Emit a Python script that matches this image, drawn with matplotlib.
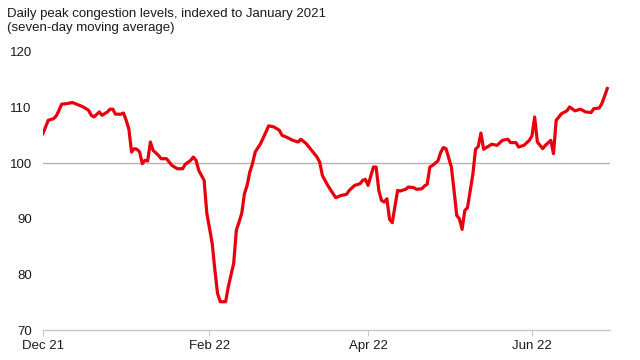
import matplotlib

matplotlib.use("Agg")
import matplotlib.pyplot as plt
import pandas as pd

# seven-day moving average of daily peak congestion, index Jan 2021 = 100
dates = [
    "2021-12-01", "2021-12-02", "2021-12-03", "2021-12-05", "2021-12-06",
    "2021-12-07", "2021-12-08", "2021-12-10", "2021-12-12", "2021-12-13",
    "2021-12-15", "2021-12-16", "2021-12-18", "2021-12-19", "2021-12-20",
    "2021-12-22", "2021-12-23", "2021-12-25", "2021-12-26", "2021-12-27",
    "2021-12-28", "2021-12-30", "2021-12-31", "2022-01-01", "2022-01-02",
    "2022-01-03", "2022-01-04", "2022-01-05", "2022-01-06", "2022-01-07",
    "2022-01-08", "2022-01-09", "2022-01-10", "2022-01-11", "2022-01-13",
    "2022-01-14", "2022-01-16", "2022-01-18", "2022-01-20", "2022-01-22",
    "2022-01-23", "2022-01-25", "2022-01-26", "2022-01-27", "2022-01-28",
    "2022-01-29", "2022-01-30", "2022-01-31", "2022-02-02", "2022-02-03",
    "2022-02-04", "2022-02-05", "2022-02-07", "2022-02-08", "2022-02-10",
    "2022-02-11", "2022-02-12", "2022-02-13", "2022-02-14", "2022-02-15",
    "2022-02-16", "2022-02-17", "2022-02-18", "2022-02-20", "2022-02-22",
    "2022-02-23", "2022-02-25", "2022-02-27", "2022-02-28", "2022-03-02",
    "2022-03-04", "2022-03-06", "2022-03-07", "2022-03-09", "2022-03-11",
    "2022-03-13", "2022-03-14", "2022-03-15", "2022-03-17", "2022-03-19",
    "2022-03-20", "2022-03-22", "2022-03-24", "2022-03-25", "2022-03-27",
    "2022-03-29", "2022-03-30", "2022-03-31", "2022-04-01", "2022-04-03",
    "2022-04-04", "2022-04-05", "2022-04-06", "2022-04-07", "2022-04-08",
    "2022-04-09", "2022-04-10", "2022-04-12", "2022-04-13", "2022-04-15",
    "2022-04-16", "2022-04-18", "2022-04-19", "2022-04-21", "2022-04-22",
    "2022-04-23", "2022-04-24", "2022-04-25", "2022-04-27", "2022-04-28",
    "2022-04-29", "2022-04-30", "2022-05-02", "2022-05-03", "2022-05-04",
    "2022-05-05", "2022-05-06", "2022-05-07", "2022-05-08", "2022-05-10",
    "2022-05-11", "2022-05-12", "2022-05-13", "2022-05-14", "2022-05-16",
    "2022-05-17", "2022-05-19", "2022-05-21", "2022-05-23", "2022-05-24",
    "2022-05-26", "2022-05-27", "2022-05-29", "2022-05-31", "2022-06-01",
    "2022-06-02", "2022-06-03", "2022-06-05", "2022-06-06", "2022-06-08",
    "2022-06-09", "2022-06-10", "2022-06-12", "2022-06-14", "2022-06-15",
    "2022-06-17", "2022-06-19", "2022-06-21", "2022-06-23", "2022-06-24",
    "2022-06-26", "2022-06-27", "2022-06-28", "2022-06-29",
]
congestion = [
    105.3, 106.5, 107.7, 108.0, 108.5,
    109.5, 110.6, 110.7, 110.9, 110.7,
    110.3, 110.1, 109.5, 108.6, 108.3,
    109.2, 108.6, 109.2, 109.7, 109.7,
    108.8, 108.8, 109.0, 107.7, 106.1,
    102.0, 102.6, 102.5, 102.0, 99.9,
    100.5, 100.4, 103.8, 102.3, 101.4,
    100.8, 100.8, 99.6, 99.0, 99.0,
    99.8, 100.5, 101.1, 100.5, 98.7,
    97.8, 96.9, 91.0, 85.6, 80.8,
    76.6, 75.1, 75.1, 77.8, 82.0,
    88.0, 89.4, 91.0, 94.5, 96.0,
    98.4, 99.9, 102.0, 103.5, 105.6,
    106.7, 106.5, 105.9, 105.0, 104.6,
    104.1, 103.8, 104.3, 103.5, 102.3,
    101.1, 100.2, 97.8, 96.0, 94.5,
    93.8, 94.2, 94.4, 95.1, 96.0,
    96.3, 96.9, 97.1, 96.0, 99.3,
    99.3, 95.1, 93.3, 93.0, 93.6,
    89.9, 89.3, 95.1, 95.0, 95.3,
    95.7, 95.6, 95.3, 95.4, 95.9,
    96.2, 99.3, 99.6, 100.4, 101.9,
    102.8, 102.6, 99.3, 95.1, 90.6,
    90.0, 88.1, 91.5, 92.0, 98.0,
    102.5, 103.0, 105.4, 102.5, 103.1,
    103.4, 103.2, 104.1, 104.3, 103.7,
    103.7, 102.9, 103.2, 104.1, 104.9,
    108.3, 103.8, 102.6, 103.2, 104.1,
    101.7, 107.7, 108.9, 109.4, 110.1,
    109.4, 109.7, 109.2, 109.1, 109.8,
    109.9, 110.7, 112.0, 113.4,
]
x_ticks = ["2021-12-01", "2022-02-01", "2022-04-01", "2022-06-01"]
x_tick_labels = ["Dec 21", "Feb 22", "Apr 22", "Jun 22"]
y_ticks = [70, 80, 90, 100, 110, 120]
title = "Daily peak congestion levels, indexed to January 2021\n(seven-day moving average)"

plt.rcParams["font.family"] = ["Liberation Sans", "DejaVu Sans"]

fig = plt.figure(figsize=(6.4, 3.6), dpi=100)
ax = fig.add_axes([0.067, 0.083, 0.886, 0.773])

ax.axhline(100, color="#b4b4b4", linewidth=1.0, zorder=1)
ax.plot(pd.to_datetime(dates), congestion, color="#e8000d", linewidth=2.3, zorder=3)

ax.set_xlim(pd.Timestamp("2021-12-01"), pd.Timestamp("2022-06-30"))
ax.set_ylim(70, 120)
ax.set_xticks(pd.to_datetime(x_ticks))
ax.set_xticklabels(x_tick_labels)
ax.set_yticks(y_ticks)

for side in ["top", "right", "left"]:
    ax.spines[side].set_visible(False)
ax.spines["bottom"].set_color("#c8c8c8")
ax.spines["bottom"].set_linewidth(1.0)
ax.tick_params(axis="x", length=4, color="#c8c8c8", labelsize=9.5, pad=3,
               labelcolor="#1a1a1a")
ax.tick_params(axis="y", length=0, labelsize=9.5, pad=8, labelcolor="#1a1a1a")

fig.text(0.011, 0.978, title, ha="left", va="top", fontsize=9.5,
         color="#1a1a1a", linespacing=1.25)

fig.savefig("out.png", dpi=100)
